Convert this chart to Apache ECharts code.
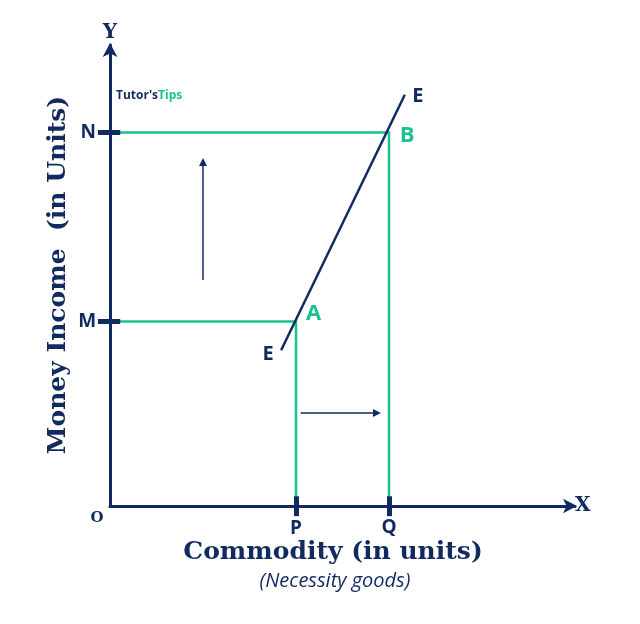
<!DOCTYPE html>
<html><head><meta charset="utf-8">
<script src="https://cdn.jsdelivr.net/npm/echarts@6/dist/echarts.min.js"></script>
<style>html,body{margin:0;padding:0;background:#fff;}#c{width:640px;height:624px;}</style>
</head><body><div id="c"></div>
<script>
// Key quantities (data units on 0..100 scales)
const qtyP = 40, qtyQ = 60;          // commodity quantities
const incM = 40, incN = 81;          // money income levels
const engelLine = [[36.8, 33.8], [63.4, 89.2]]; // E-E curve end points
const upArrow = [[20, 49], [20, 74.6]];
const rightArrow = [[41, 20.2], [57.4, 20.2]];
const pointLabels = [
  {name:'N', value:[-3.0, incN], kind:'axis', align:'right'},
  {name:'M', value:[-3.0, incM], kind:'axis', align:'right'},
  {name:'P', value:[qtyP, -5.0], kind:'axis', align:'center'},
  {name:'Q', value:[qtyQ, -4.6], kind:'axis', align:'center'},
  {name:'E', value:[34, 33], kind:'curve', align:'center'},
  {name:'E', value:[66.2, 88.8], kind:'curve', align:'center'},
  {name:'A', value:[43.8, 41.6], kind:'pt', align:'center'},
  {name:'B', value:[63.9, 80.3], kind:'pt', align:'center'}
];
const navy = '#112a5f', green = '#19c28f';

const chart = echarts.init(document.getElementById('c'));
chart.setOption({
  animation:false,
  title:[
    {text:'Commodity (in units)', left:328, top:535, textAlign:'center',
     textStyle:{fontFamily:'DejaVu Serif', fontWeight:'bold', fontSize:25, color:navy}},
    {text:'(Necessity goods)', left:330, top:566, textAlign:'center',
     textStyle:{fontFamily:'Open Sans', fontStyle:'italic', fontWeight:'normal', fontSize:20, color:navy}}
  ],
  graphic:[
    {type:'text', x:58, y:275, rotation:Math.PI/2, style:{text:'Money Income  (in Units)', fontFamily:'DejaVu Serif', fontWeight:'bold', fontSize:25, fill:navy, align:'center', verticalAlign:'middle'}},
    {type:'text', x:116, y:90, style:{rich:{a:{fontFamily:'Open Sans', fontWeight:'bold', fontSize:12, fill:navy}, b:{fontFamily:'Open Sans', fontWeight:'bold', fontSize:12, fill:green}}, text:'{a|Tutor\'s}{b|Tips}'}}
  ],
  grid:{left:110, top:45, width:465, height:461},
  xAxis:{type:'value', min:0, max:100, name:'X', nameLocation:'end', nameGap:0,
    nameTextStyle:{fontFamily:'DejaVu Serif', fontWeight:'bold', fontSize:20, color:navy, verticalAlign:'middle'},
    axisLine:{show:true, symbol:['none','arrow'], symbolSize:[11,14], symbolOffset:[0,2], lineStyle:{color:navy, width:3}},
    axisTick:{show:false}, axisLabel:{show:false}, splitLine:{show:false}},
  yAxis:{type:'value', min:0, max:100, name:'Y', nameLocation:'end', nameGap:2,
    nameTextStyle:{fontFamily:'DejaVu Serif', fontWeight:'bold', fontSize:20, color:navy, align:'center'},
    axisLine:{show:true, symbol:['none','arrow'], symbolSize:[11,14], symbolOffset:[0,2], lineStyle:{color:navy, width:3}},
    axisTick:{show:false}, axisLabel:{show:false}, splitLine:{show:false}},
  series:[
    {type:'lines', coordinateSystem:'cartesian2d', polyline:true, silent:true, z:2, clip:false,
     lineStyle:{opacity:1},
     data:[
       {coords:[[0,incN],[qtyQ,incN],[qtyQ,0]], lineStyle:{color:green, width:2.5, opacity:1}},
       {coords:[[0,incM],[qtyP,incM],[qtyP,0]], lineStyle:{color:green, width:2.5, opacity:1}}
     ]},
    {type:'lines', coordinateSystem:'cartesian2d', silent:true, z:3, clip:false,
     lineStyle:{opacity:1},
     data:[
       {coords:engelLine, lineStyle:{color:navy, width:2.5, opacity:1}},
       {coords:[[-2.6,incN],[2.2,incN]], lineStyle:{color:navy, width:5, opacity:1}},
       {coords:[[-2.6,incM],[2.2,incM]], lineStyle:{color:navy, width:5, opacity:1}},
       {coords:[[qtyP,2.1],[qtyP,-2.2]], lineStyle:{color:navy, width:5, opacity:1}},
       {coords:[[qtyQ,2.1],[qtyQ,-2.2]], lineStyle:{color:navy, width:5, opacity:1}}
     ]},
    {type:'lines', coordinateSystem:'cartesian2d', silent:true, z:3, clip:false,
     symbol:['none','triangle'], symbolSize:8,
     lineStyle:{opacity:1},
     data:[
       {coords:upArrow, lineStyle:{color:navy, width:1.5, opacity:1}},
       {coords:rightArrow, lineStyle:{color:navy, width:1.5, opacity:1}}
     ]},
    {type:'scatter', clip:false, symbolSize:0, silent:true, z:5, itemStyle:{opacity:1},
     data:pointLabels.concat([{name:'O', value:[-2.8,-2.6], kind:'o', align:'center'}]).map(d=>({
       name:d.name, value:d.value,
       label:{show:true, position:'inside', formatter:'{b}', align:d.align, verticalAlign:'middle',
         fontFamily: d.kind==='o' ? 'DejaVu Serif' : 'Open Sans', fontWeight:'bold',
         fontSize: d.kind==='pt' ? 22 : (d.kind==='curve' ? 20 : (d.kind==='o'?15:19)),
         color: d.kind==='pt' ? green : navy, opacity:1}
     }))}
  ]
});
</script></body></html>
